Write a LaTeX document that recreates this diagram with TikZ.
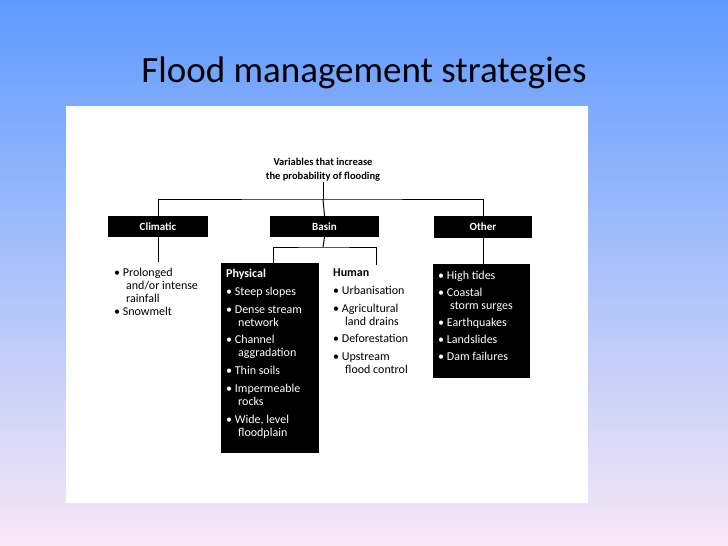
\documentclass[tikz,border=0pt]{standalone}
\usepackage{fontspec}
\setmainfont{Carlito}
\begin{document}
\begin{tikzpicture}[x=1pt,y=-1pt,
  hbox/.style={fill=black,text=white,font=\bfseries\fontsize{11}{12}\selectfont,inner sep=0pt},
  lst/.style={anchor=north west,align=left,inner sep=0pt,font=\fontsize{12}{13}\selectfont},
  ln/.style={line width=1pt}]
\useasboundingbox (0,0) rectangle (728,546);
\shade[top color={rgb,255:red,95;green,155;blue,255},bottom color={rgb,255:red,248;green,232;blue,246}] (0,0) rectangle (728,546);
\node[font=\fontsize{37}{40}\selectfont] (title) at (364,73) {Flood management strategies};
\fill[white] (66,106) rectangle (588,503);
\node[align=center,font=\bfseries\fontsize{10.5}{14}\selectfont,inner sep=0pt] (top) at (323,170) {Variables that increase\\the probability of flooding};
\coordinate (j) at (323,199);
\node[hbox,minimum width=100pt,minimum height=21pt] (cl) at (158,226.5) {Climatic};
\node[hbox,minimum width=109pt,minimum height=21pt] (ba) at (324.5,226.5) {Basin};
\node[hbox,minimum width=98pt,minimum height=22pt] (ot) at (483,227) {Other};
\draw[ln] (top.south) -- (j);
\draw[ln] (cl.north) |- (j) -| (ot.north);
\draw[ln] (j) -- (ba.north);
\node[fill=black,minimum width=98pt,minimum height=190pt,inner sep=0pt] (ph) at (270,358) {};
\node[fill=black,minimum width=97pt,minimum height=114pt,inner sep=0pt] (ol) at (481.5,321) {};
\coordinate (cle) at (158,262);
\coordinate (hu) at (376,265);
\coordinate (bj) at (323,247);
\draw[ln] (cl.south) -- (cle);
\draw[ln] (ba.south) -- (bj);
\draw[ln] (ph.north -| 273,0) |- (bj) -| (hu);
\draw[ln] (ot.south) -- (ol.north -| ot.south);
\node[lst] (cll) at (114,268) {\textbullet\ Prolonged\\\hspace{1em}and/or intense\\\hspace{1em}rainfall\\\textbullet\ Snowmelt};
\node[lst,text=white] (phl) at (226,269) {\textbf{Physical}\\[5pt]\textbullet\ Steep slopes\\[4.5pt]\textbullet\ Dense stream\\\hspace{1em}network\\[4.5pt]\textbullet\ Channel\\\hspace{1em}aggradation\\[5pt]\textbullet\ Thin soils\\[4.5pt]\textbullet\ Impermeable\\\hspace{1em}rocks\\[5.5pt]\textbullet\ Wide, level\\\hspace{1em}floodplain};
\node[lst] (hul) at (333,269) {\textbf{Human}\\[5pt]\textbullet\ Urbanisation\\[4.5pt]\textbullet\ Agricultural\\\hspace{1em}land drains\\[4.5pt]\textbullet\ Deforestation\\[4.5pt]\textbullet\ Upstream\\\hspace{1em}flood control};
\node[lst,text=white] (otl) at (438,271) {\textbullet\ High tides\\[4pt]\textbullet\ Coastal\\\hspace{1em}storm surges\\[4pt]\textbullet\ Earthquakes\\[4pt]\textbullet\ Landslides\\[4pt]\textbullet\ Dam failures};
\end{tikzpicture}
\end{document}
